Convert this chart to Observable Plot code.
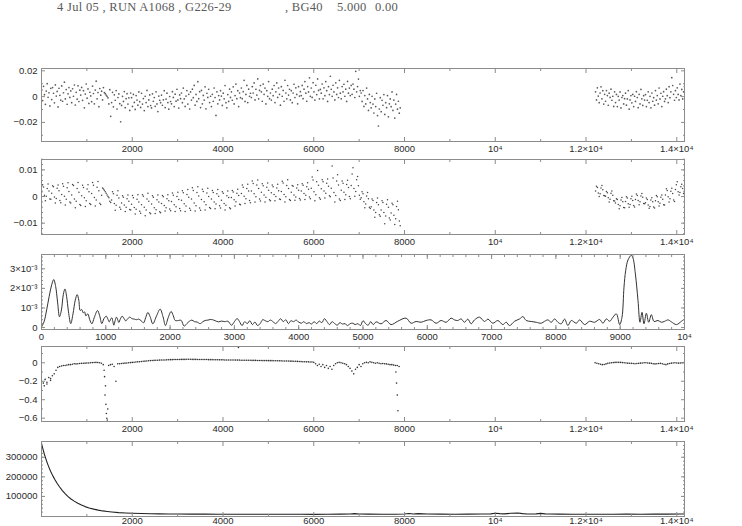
<!DOCTYPE html>
<html><head><meta charset="utf-8">
<script src="https://cdn.jsdelivr.net/npm/d3@7"></script>
<script src="https://cdn.jsdelivr.net/npm/@observablehq/plot@0.6"></script>
<style>
body{margin:0;background:#fff;}
#wrap{position:relative;width:742px;height:526px;overflow:hidden;background:#fff;}
.ttl{position:absolute;top:1px;font-family:"Liberation Serif","Times New Roman",serif;font-size:12.5px;line-height:12px;color:#5a5a5a;white-space:pre;letter-spacing:0.3px;}
</style></head>
<body><div id="wrap">
<div class="ttl" style="left:57px">4 Jul 05 , RUN A1068 , G226-29</div>
<div class="ttl" style="left:285px">, BG40</div>
<div class="ttl" style="left:337px">5.000</div>
<div class="ttl" style="left:375px">0.00</div>
</div>
<script>
// ---------- tick labels ----------
const timeTicks = [2000, 4000, 6000, 8000, 10000, 12000, 14000];
const timeTickLabels = ["2000", "4000", "6000", "8000", "10⁴", "1.2×10⁴", "1.4×10⁴"];
const freqTicks = [0, 1000, 2000, 3000, 4000, 5000, 6000, 7000, 8000, 9000, 10000];
const freqTickLabels = ["0", "1000", "2000", "3000", "4000", "5000", "6000", "7000", "8000", "9000", "10⁴"];
const p1YTicks = [0.02, 0, -0.02];
const p1YLabels = ["0.02", "0", "−0.02"];
const p2YTicks = [0.01, 0, -0.01];
const p2YLabels = ["0.01", "0", "−0.01"];
const p3YTicks = [0, 0.001, 0.002, 0.003];
const p3YLabels = ["0", "10⁻³", "2×10⁻³", "3×10⁻³"];
const p4YTicks = [0, -0.2, -0.4, -0.6];
const p4YLabels = ["0", "−0.2", "−0.4", "−0.6"];
const p5YTicks = [100000, 200000, 300000];
const p5YLabels = ["100000", "200000", "300000"];

// ---------- sampling of the light curves (seconds) ----------
const segAStart = 5, segBStart = 12210, lcStep = 20;
const p4SegAStart = 0, p4SegBStart = 12200, p4Step = 40;

// Panel 1: raw light curve (units of 1e-3)
const lc1A = [
5.2,-3.1,8,1.5,-6,4.3,10,-0.5,3,-7.2,6.4,
-2.3,7,2.6,-4.8,9.1,0.4,4,-8,6.5,1,-2.7,
8.3,-3.6,3,11.2,-1.8,5.5,-5.9,2.2,7,-0.6,4.4,
-4.7,6.1,0.3,9,-6.5,3.3,-2,8.4,-3.8,5,1.2,
7.1,-2.9,4.6,-8.7,2,9.8,-1.2,6,-5.3,3.4,0.5,
-3.9,8.2,2.4,-5.6,5.1,12,-1.7,3.2,-7.8,6.3,1.1,
4.2,-2.6,7,3.1,2.3,1.2,0.2,-0.9,-5.7,5.4,-15.3,
-4.6,3.3,-7.9,1.4,-2.8,4.7,-9.6,-0.7,2.1,-5.5,-19.5,
-6.8,0.2,-3.7,3.9,-8.6,-1.6,2.3,-5.8,-0.9,-10.7,2.8,
-0.8,-7.6,1.7,-4.5,-9.9,0.8,-2.7,-6.6,3.6,-3.9,-8.4,
2.6,-5.8,-1.5,-10.8,0.3,-4.6,4.8,-7.7,-2.6,1.3,-6.9,
-8.8,2.2,-3.6,-0.7,-7.5,3.7,-5.7,-11.6,0.4,-2.8,-4.7,
1.2,-6.7,-2.5,4.6,-8.5,-1.9,2.7,-4.6,-9.7,0.1,-3.8,
-5.6,3.8,-0.6,-7.7,1.9,-3.5,5.7,-2.6,-8.9,1.3,-1.6,
2.8,-4.7,6.6,-1.8,-7.6,0.4,4.7,-5.8,1.8,-9.6,3.6,
-2.7,5.8,-0.8,8.7,-6.6,1.7,-3.7,11.6,-1.6,3.8,-8.5,
4.8,-5.6,0.9,-2.7,7.6,-9.5,2.6,-0.6,5.7,-4.6,0.3,
-7.7,1.8,-3.6,6.7,-0.7,-14.6,3.7,-5.6,0.8,-2.6,4.6,
0.4,-6.8,2.7,-1.7,8.6,-4.7,-8.7,1.6,-3.7,5.8,-0.6,
3.7,-2.8,7.6,-5.7,0.8,9.7,-1.6,4.6,-7.7,2.8,-0.8,
6.7,-1.6,3.8,12.6,-3.7,1.7,8.7,-4.6,5.8,0.3,2.6,
-0.7,7.7,2.8,10.6,-2.6,5.7,1.2,13.7,-1.7,4.8,8.6,
3.7,-3.6,9.7,1.8,6.6,-5.7,4.6,0.2,11.7,-1.6,2.8,
-2.7,5.8,0.7,8.6,-4.6,3.7,10.6,-0.6,6.7,1.8,-6.6,
7.7,0.3,4.8,-3.6,12.7,2.8,-1.7,8.6,1.2,5.7,-2.6,
4.6,-4.7,2.8,9.6,-0.7,6.8,1.7,-5.6,7.7,0.4,3.8,
0.8,8.7,-1.6,5.8,11.7,2.7,-3.6,7.8,3.6,14.6,0.2,
6.7,-0.6,10.8,3.7,-2.7,8.8,1.6,13.7,4.8,-1.7,5.6,
2.7,9.8,-1.7,6.8,0.7,11.7,4.6,-3.7,7.7,1.6,15.8,
5.7,0.2,8.8,3.6,-2.6,10.7,1.7,6.8,-0.7,12.6,2.7,
-1.7,7.8,3.7,9.6,0.3,5.8,-3.7,11.8,2.7,6.6,0.8,
8.7,1.8,9.7,5.8,-0.7,19.6,3.7,7.8,13.6,0.2,4.7,
2.8,-3.7,4.7,-7.6,0.8,-5.7,6.6,-1.8,-10.7,1.7,-4.6,
-8.7,0.3,-5.8,-12.7,-1.8,-7.7,2.6,-14.7,-22.8,-9.6,-0.8,
-11.7,-2.8,-6.7,1.6,-13.8,-4.7,-8.6,0.8,-15.7,-5.6,-1.8,
-7.8,3.6,-10.7,-2.7,-16.6,-5.8,1.7,-9.7,-3.6,-12.8,-8.7];
const lc1B = [
3.7,-2.6,6.8,0.4,-4.7,2.8,7.6,-1.7,4.6,-5.8,1.8,
-3.6,4.7,0.8,-6.7,2.7,-0.6,5.8,-2.8,0.3,-7.6,3.7,
-4.6,1.7,-7.7,0.2,-2.7,3.6,-8.8,-0.7,0.8,-5.7,-1.6,
2.7,-6.6,-1.8,4.7,-9.7,-2.6,0.8,-4.8,1.7,-7.7,0.3,
-3.7,3.8,-0.7,-8.6,1.8,-5.7,5.6,-1.7,-6.8,0.7,-2.7,
1.6,-7.7,-2.8,3.7,-4.6,0.2,-8.7,2.8,-3.6,-0.8,-6.6,
4.7,-2.7,0.8,-5.6,6.7,-1.8,2.6,-7.7,0.3,3.8,-3.7,
-1.7,5.8,0.7,-4.6,7.7,-0.8,3.7,14.7,8.6,1.8,-2.8,
4.6,-0.7,6.8,1.7,-2.6,9.7,0.8,5.6,-1.8,3.7,7.6];

// Panel 2: smoothed light curve (units of 1e-3)
const lc2A = [
1.7,4.4,3.6,0.5,-1.6,0.1,3.0,4.7,2.1,-0.9,-1.0,
1.2,4.0,3.7,-0.2,-2.4,-0.7,3.1,4.3,2.2,-1.5,-2.3,
0.8,4.8,3.9,0.1,-3.2,-1.0,3.3,5.2,1.9,-2.1,-2.4,
0.6,4.5,4.1,-0.9,-4.2,-1.8,3.0,5.3,1.6,-3.0,-3.4,
0.3,4.2,3.4,-0.5,-3.7,-1.6,2.8,4.4,1.8,-2.6,-3.0,
1.1,5.3,4.2,-0.4,-3.6,-1.3,3.5,5.6,2.2,-2.5,-3.0,
0.5,3.2,2.8,2.4,1.8,1.2,0.6,0.0,-0.5,-1.8,-2.2,
-1.3,1.8,1.0,-2.6,-5.2,-3.3,0.5,2.2,-0.6,-4.0,-4.8,
-2.4,0.3,-0.3,-3.2,-5.6,-4.0,-0.8,0.6,-1.8,-4.9,-5.1,
-2.9,0.4,-0.5,-4.1,-6.6,-4.8,-1.0,0.7,-2.1,-5.5,-6.3,
-3.1,0.7,0.1,-4.0,-7.2,-5.1,-0.9,1.2,-1.8,-6.1,-6.5,
-2.8,0.3,-0.3,-4.2,-6.4,-5.0,-1.2,0.6,-2.1,-5.7,-6.1,
-2.6,0.4,-0.1,-3.4,-5.4,-4.2,-0.8,0.7,-1.6,-4.7,-5.3,
-1.9,1.3,0.5,-3.1,-5.6,-3.8,0.0,1.6,-1.1,-4.5,-5.3,
-1.4,2.2,1.4,-2.7,-5.6,-3.6,0.8,2.6,-0.3,-4.4,-5.2,
-0.9,3.3,2.3,-2.4,-5.4,-3.5,1.5,3.7,0.2,-4.3,-5.2,
-1.1,2.7,1.9,-2.0,-5.1,-3.1,1.3,3.1,0.0,-4.1,-4.5,
-0.9,2.3,1.5,-2.1,-4.6,-2.8,1.0,2.6,0.1,-3.5,-4.3,
-1.4,1.8,1.2,-2.6,-5.1,-3.3,0.3,2.1,-0.4,-4.2,-4.6,
-0.4,2.3,1.7,-1.2,-3.6,-2.0,1.2,2.7,0.4,-2.9,-3.1,
1.1,4.3,3.5,0.1,-2.6,-0.8,3.0,4.6,2.1,-1.5,-2.3,
2.1,5.8,4.9,1.0,-2.1,-0.1,4.3,6.2,3.0,-0.9,-1.7,
1.6,4.8,4.0,0.6,-2.1,-0.3,3.5,5.1,2.4,-1.2,-1.6,
1.4,4.3,3.7,0.8,-1.6,0.0,3.2,4.6,2.2,-0.9,-1.1,
1.9,5.7,5.1,0.8,-2.1,-0.1,4.1,6.3,3.0,-1.1,-1.5,
1.6,4.1,3.9,0.6,-1.4,-0.2,3.2,4.4,2.4,-0.7,-1.3,
2.1,4.8,4.2,1.1,-1.1,0.5,3.7,5.2,2.7,-0.2,-0.8,
3.1,7.3,6.2,1.8,-1.6,0.7,5.5,9.8,4.2,-0.5,-1.0,
2.9,6.3,5.5,2.1,-0.6,1.2,5.0,6.6,3.9,0.3,-0.1,
3.1,11.5,7.0,1.5,-2.1,0.4,5.8,8.2,4.3,-0.9,-1.5,
2.4,5.8,5.0,1.6,-1.1,0.7,4.5,6.1,3.4,0.0,-0.8,
4.1,8.5,10.8,3.0,0.1,1.9,6.3,7.5,4.0,0.5,-1.0,
-0.5,1.8,1.0,-2.0,-4.2,-2.8,0.2,1.5,-0.8,-4.0,-4.5,
-3.8,-0.9,-1.5,-5.1,-7.8,-6.0,-2.2,-0.6,-3.1,-6.8,-7.4,
-5.1,-1.6,-2.2,-6.0,-10.2,-7.3,-2.9,-1.2,-4.0,-8.1,-8.8,
-6.2,-2.5,-3.1,-7.0,-10.5,-8.3,-3.7,-1.8,-5.0,-9.2,-11.0];
const lc2B = [
2.1,3.9,3.4,1.3,0.0,1.0,3.2,4.1,2.5,0.4,0.3,
0.1,1.9,1.4,-0.5,-2.1,-1.0,1.2,2.1,0.5,-1.6,-1.7,
-2.4,-0.8,-1.1,-3.0,-4.6,-3.5,-1.3,-0.4,-2.0,-4.1,-4.2,
-1.9,-0.1,-0.6,-2.7,-4.0,-3.0,-0.8,0.1,-1.5,-3.4,-3.9,
-1.1,0.9,0.4,-1.5,-3.1,-2.0,0.2,1.1,-0.3,-2.6,-2.7,
-2.3,-0.6,-1.1,-3.2,-4.4,-3.7,-1.3,-0.5,-2.0,-3.9,-4.3,
-1.6,0.4,-0.1,-2.0,-3.6,-2.5,-0.3,0.6,-1.0,-3.1,-3.2,
0.6,2.9,2.3,-0.1,-2.1,-0.8,2.0,3.1,1.1,-1.3,-1.9,
2.6,4.4,5.5,1.8,0.6,1.5,3.7,4.6,3.0,1.1,1.6];

// Panel 3: amplitude spectrum [frequency, amplitude in 1e-3]
const ftAmp = [
[0,0.02],[40,0.3],[80,0.9],[120,1.6],[160,2.2],[190,2.45],[220,2.1],[250,1.3],[280,0.55],[310,0.9],
[340,1.7],[365,1.97],[390,1.6],[420,0.8],[455,0.2],[490,0.7],[525,1.4],[555,1.68],[580,1.4],[602,0.87],
[625,0.92],[650,0.75],[670,0.8],[690,0.6],[720,0.7],[750,0.4],[783,0.19],[820,0.5],[871,0.87],[905,0.6],
[938,0.2],[970,0.45],[1006,0.58],[1030,0.45],[1053,0.29],[1075,0.42],[1094,0.5],[1110,0.3],[1125,0.12],[1145,0.35],
[1166,0.53],[1185,0.4],[1202,0.26],[1228,0.45],[1254,0.58],[1285,0.45],[1311,0.34],[1340,0.45],[1373,0.53],[1410,0.45],
[1446,0.43],[1475,0.4],[1508,0.43],[1550,0.35],[1586,0.24],[1620,0.5],[1653,0.77],[1690,0.55],[1731,0.19],[1790,0.6],
[1845,0.94],[1890,0.55],[1928,0.1],[1970,0.5],[2016,0.82],[2050,0.6],[2080,0.36],[2130,0.36],[2171,0.37],[2218,0.07],
[2260,0.2],[2300,0.32],[2338,0.38],[2380,0.3],[2420,0.28],[2467,0.2],[2510,0.3],[2545,0.36],[2590,0.38],[2623,0.41],
[2660,0.4],[2700,0.35],[2752,0.29],[2800,0.33],[2850,0.3],[2900,0.32],[2955,0.12],[3000,0.3],[3043,0.46],[3080,0.3],
[3120,0.1],[3160,0.3],[3200,0.2],[3240,0.35],[3280,0.15],[3320,0.28],[3360,0.1],[3400,0.2],[3440,0.4],[3480,0.35],
[3520,0.3],[3560,0.38],[3600,0.3],[3640,0.2],[3680,0.32],[3720,0.45],[3760,0.3],[3800,0.4],[3840,0.2],[3880,0.35],
[3920,0.3],[3960,0.38],[4000,0.28],[4040,0.22],[4080,0.3],[4120,0.2],[4160,0.25],[4200,0.18],[4240,0.3],[4280,0.2],
[4320,0.33],[4360,0.25],[4400,0.45],[4440,0.3],[4480,0.15],[4520,0.3],[4560,0.2],[4600,0.12],[4640,0.25],[4680,0.18],
[4720,0.2],[4760,0.1],[4800,0.2],[4840,0.22],[4880,0.15],[4920,0.2],[4960,0.1],[5000,0.35],[5040,0.2],[5080,0.12],
[5120,0.3],[5160,0.15],[5203,0.29],[5281,0.19],[5359,0.36],[5436,0.15],[5540,0.32],[5670,0.48],[5748,0.22],[5826,0.31],
[5904,0.27],[5981,0.36],[6059,0.39],[6137,0.22],[6215,0.36],[6293,0.27],[6371,0.48],[6423,0.39],[6474,0.36],[6526,0.44],
[6578,0.27],[6630,0.43],[6682,0.19],[6734,0.39],[6812,0.53],[6890,0.31],[6942,0.43],[7019,0.22],[7097,0.36],[7175,0.15],
[7227,0.27],[7279,0.1],[7357,0.32],[7435,0.44],[7487,0.56],[7538,0.36],[7616,0.31],[7694,0.27],[7772,0.22],[7824,0.32],
[7876,0.39],[7928,0.27],[7980,0.44],[8031,0.27],[8083,0.19],[8135,0.43],[8187,0.1],[8239,0.36],[8317,0.22],[8369,0.39],
[8447,0.15],[8524,0.32],[8602,0.27],[8680,0.41],[8732,0.22],[8784,0.44],[8836,0.32],[8888,0.53],[8940,0.7],[8992,0.15],
[9028,0.53],[9059,2.06],[9085,2.9],[9121,3.45],[9173,3.69],[9199,3.55],[9236,2.74],[9277,1.38],[9308,0.27],[9339,0.78],
[9370,0.19],[9407,0.73],[9443,0.27],[9485,0.66],[9526,0.31],[9588,0.36],[9640,0.27],[9692,0.32],[9744,0.39],[9796,0.29],
[9874,0.15],[9952,0.32],[10000,0.44]];

// Panel 4: comparison ratio
const p4A = [
-0.20,-0.22,-0.18,-0.21,-0.16,-0.19,-0.14,-0.12,-0.08,-0.05,
-0.04,-0.035,-0.03,-0.03,-0.025,-0.02,-0.02,-0.015,-0.01,-0.012,
-0.01,-0.008,-0.006,-0.005,-0.004,-0.003,-0.002,0.0,0.002,0.003,
0.004,0.003,0.0,-0.005,-0.02,-0.35,-0.6,-0.03,-0.02,-0.015,
-0.04,-0.2,-0.01,-0.01,-0.008,-0.006,-0.004,-0.002,0.0,0.002,
0.004,0.006,0.008,0.01,0.012,0.014,0.016,0.018,0.02,0.022,
0.024,0.025,0.026,0.027,0.028,0.029,0.03,0.03,0.031,0.032,
0.033,0.034,0.034,0.035,0.035,0.036,0.036,0.037,0.037,0.037,
0.038,0.038,0.038,0.037,0.037,0.037,0.036,0.036,0.036,0.035,
0.035,0.035,0.034,0.034,0.034,0.033,0.033,0.033,0.032,0.032,
0.032,0.031,0.031,0.031,0.03,0.03,0.03,0.029,0.029,0.029,
0.028,0.028,0.028,0.027,0.027,0.027,0.026,0.026,0.026,0.025,
0.025,0.025,0.024,0.024,0.024,0.023,0.023,0.023,0.022,0.022,
0.022,0.021,0.021,0.02,0.02,0.019,0.019,0.018,0.018,0.017,
0.016,0.015,0.014,0.013,0.012,0.011,0.01,0.01,0.009,0.008,
0.005,-0.01,-0.03,-0.015,-0.04,-0.02,-0.05,-0.03,-0.06,-0.04,
-0.07,-0.03,-0.01,0.0,0.005,0.0,-0.005,-0.01,-0.02,-0.04,
-0.06,-0.09,-0.12,-0.07,-0.05,-0.02,-0.04,-0.01,0.0,0.005,
0.0,0.01,0.005,0.0,-0.005,0.0,-0.005,-0.01,-0.008,-0.01,
-0.012,-0.015,-0.02,-0.02,-0.025,-0.03,-0.03,-0.04];
const p4B = [
0.0,-0.005,-0.01,-0.015,-0.02,-0.018,-0.012,-0.006,-0.002,0.0,
0.002,0.004,0.005,0.005,0.004,0.002,0.0,-0.002,-0.004,-0.005,
-0.006,-0.008,-0.01,-0.008,-0.006,-0.004,-0.002,0.0,0.0,-0.002,
-0.004,-0.006,-0.01,-0.012,-0.01,-0.008,-0.006,-0.01,-0.015,-0.02,
-0.012,-0.008,-0.004,-0.002,0.0,-0.002,-0.004,-0.002,0.0,0.002];
const p4Extra = [
[60,-0.25],[120,-0.23],[200,-0.17],[1380,-0.08],[1390,-0.15],[1410,-0.25],[1420,-0.45],[1430,-0.55],
[1450,-0.62],[1460,-0.5],[4340,0.165],[7810,-0.1],[7825,-0.22],[7840,-0.35],[7855,-0.52]];

// Panel 5: sky counts [time, counts]
const sky = [
[0,372000],[20,352000],[40,335000],[60,318000],[80,303000],[100,289000],[130,269000],[160,251000],[200,229000],[250,205000],
[300,184000],[350,165000],[400,148000],[460,130000],[520,114000],[580,100000],[650,87000],[720,76000],[800,65000],[880,56000],
[960,48000],[1050,41000],[1150,35000],[1250,30000],[1350,26000],[1450,23000],[1550,20500],[1700,17500],[1850,15500],[2000,14000],
[2200,12500],[2400,11500],[2600,11000],[2800,10500],[3000,10000],[3300,9800],[3600,9500],[3900,9300],[4200,9200],[4500,9000],
[4800,9000],[5100,8800],[5400,8800],[5700,8700],[6000,8600],[6300,9000],[6600,9500],[6800,10500],[6900,12000],[7000,10000],
[7200,9500],[7500,9000],[7800,9000],[8000,10500],[8100,12500],[8200,10500],[8300,12000],[8500,10000],[8800,9500],[9100,9200],
[9400,9500],[9700,10000],[9900,11000],[10000,14000],[10100,12000],[10200,11000],[10350,14000],[10500,15000],[10600,12000],[10700,10000],
[10900,11000],[11000,13500],[11100,11000],[11200,10000],[11400,9500],[11700,9300],[12000,9000],[12300,9000],[12600,9200],[12900,9500],
[13200,9300],[13500,9500],[13800,9800],[14100,10000],[14170,10500]];

// ---------- build tables ----------
const series = (vals, t0, dt, k) => vals.map((v, i) => ({t: t0 + i * dt, v: v * k}));
const p1Data = [...series(lc1A, segAStart, lcStep, 1e-3), ...series(lc1B, segBStart, lcStep, 1e-3)];
const p2Data = [...series(lc2A, segAStart, lcStep, 1e-3), ...series(lc2B, segBStart, lcStep, 1e-3)];
const p3Data = ftAmp.map(([f, a]) => ({f, a: a * 1e-3}));
const p4Data = [...series(p4A, p4SegAStart, p4Step, 1), ...series(p4B, p4SegBStart, p4Step, 1),
  ...p4Extra.map(([t, v]) => ({t, v}))];
const p5Data = sky.map(([t, v]) => ({t, v}));

const wrap = document.getElementById("wrap");
const FRAME = "#8c8c8c", TXT = "#2a2a2a";

function axes(o) {
  const xl = new Map(o.xTicks.map((t, i) => [t, o.xLabels[i]]));
  const yl = new Map(o.yTicks.map((t, i) => [t, o.yLabels[i]]));
  const tk = {fill: "none", stroke: FRAME, label: null};
  return [
    Plot.axisX(o.xTicks, {anchor: "bottom", tickSize: -4, ...tk}),
    Plot.axisX(o.xMinor, {anchor: "bottom", tickSize: -2, ...tk}),
    Plot.axisX(o.xTicks, {anchor: "top", tickSize: -4, ...tk}),
    Plot.axisX(o.xMinor, {anchor: "top", tickSize: -2, ...tk}),
    Plot.axisY(o.yTicks, {anchor: "left", tickSize: -4, ...tk}),
    Plot.axisY(o.yMinor, {anchor: "left", tickSize: -2, ...tk}),
    Plot.axisY(o.yTicks, {anchor: "right", tickSize: -4, ...tk}),
    Plot.axisY(o.yMinor, {anchor: "right", tickSize: -2, ...tk}),
    Plot.axisX(o.xTicks, {anchor: "bottom", tickSize: 0, tickPadding: o.xPad ?? 4, tickFormat: d => xl.get(d), label: null, fill: TXT}),
    Plot.axisY(o.yTicks, {anchor: "left", tickSize: 0, tickPadding: 4, tickFormat: d => yl.get(d), label: null, fill: TXT})
  ];
}

function panel(o) {
  const mt = 6, mb = 18;
  const svg = Plot.plot({
    width: 742, height: (o.bottom - o.top) + mt + mb,
    marginLeft: 41, marginRight: 58, marginTop: mt, marginBottom: mb,
    x: {domain: o.xDomain}, y: {domain: o.yDomain},
    style: {background: "transparent", overflow: "visible", fontFamily: "'Liberation Sans', Arial, sans-serif", fontSize: "9.5px", color: TXT},
    marks: [...o.marks, Plot.frame({stroke: FRAME}), ...axes(o)]
  });
  svg.style.position = "absolute";
  svg.style.left = "0px";
  svg.style.top = (o.top - mt) + "px";
  wrap.appendChild(svg);
}

const timeDomain = [0, 14170];
const timeMinor = d3.range(1000, 14170, 2000);

panel({top: 68, bottom: 141, xDomain: timeDomain, yDomain: [-0.0348, 0.0218],
  xTicks: timeTicks, xLabels: timeTickLabels, xMinor: timeMinor,
  yTicks: p1YTicks, yLabels: p1YLabels, yMinor: [0.01, -0.01, -0.03],
  marks: [Plot.dot(p1Data, {x: "t", y: "v", r: 0.85, fill: "#5a5a5a", stroke: "none", clip: true})]});

panel({top: 159, bottom: 234, xDomain: timeDomain, yDomain: [-0.01426, 0.0139],
  xTicks: timeTicks, xLabels: timeTickLabels, xMinor: timeMinor,
  yTicks: p2YTicks, yLabels: p2YLabels, yMinor: d3.range(-0.014, 0.0141, 0.002),
  marks: [Plot.dot(p2Data, {x: "t", y: "v", r: 0.75, fill: "#444", stroke: "none", clip: true})]});

panel({top: 254, bottom: 329, xDomain: [0, 10000], yDomain: [-0.0001, 0.00373],
  xTicks: freqTicks, xLabels: freqTickLabels, xMinor: d3.range(200, 10000, 200),
  yTicks: p3YTicks, yLabels: p3YLabels, yMinor: d3.range(0.0002, 0.0037, 0.0002),
  marks: [Plot.line(p3Data, {x: "f", y: "a", stroke: "#333", strokeWidth: 1, curve: "catmull-rom", clip: true})]});

panel({top: 346, bottom: 421, xDomain: timeDomain, yDomain: [-0.636, 0.1765],
  xTicks: timeTicks, xLabels: timeTickLabels, xMinor: timeMinor,
  yTicks: p4YTicks, yLabels: p4YLabels, yMinor: [0.1, -0.1, -0.3, -0.5],
  marks: [Plot.dot(p4Data, {x: "t", y: "v", r: 0.8, fill: "#333", stroke: "none", clip: true})]});

panel({top: 441, bottom: 516, xDomain: timeDomain, yDomain: [-2500, 380500], xPad: 1,
  xTicks: timeTicks, xLabels: timeTickLabels, xMinor: timeMinor,
  yTicks: p5YTicks, yLabels: p5YLabels, yMinor: d3.range(20000, 380000, 20000),
  marks: [Plot.line(p5Data, {x: "t", y: "v", stroke: "#222", strokeWidth: 1.1, clip: true})]});
</script>
</body></html>
